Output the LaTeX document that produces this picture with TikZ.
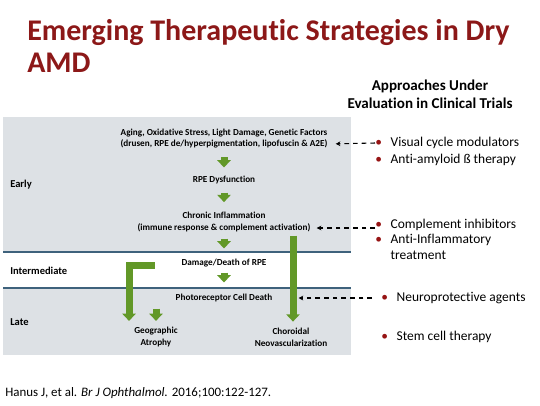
\documentclass[tikz,border=0pt]{standalone}
\usepackage{fontspec}
\setmainfont{Carlito}[Ligatures=NoCommon]
\usetikzlibrary{arrows.meta}

\definecolor{titlered}{RGB}{140,24,24}
\definecolor{arrgreen}{RGB}{98,152,40}
\definecolor{panelgray}{RGB}{221,225,229}
\definecolor{bandblue}{RGB}{62,98,124}
\definecolor{bulletred}{RGB}{150,20,20}

\newcommand{\bul}{{\color{bulletred}\textbullet}\hspace{6.5pt}}

\tikzset{
  titletext/.style={font=\fontsize{22.5}{26}\selectfont\bfseries, text=titlered, inner sep=0pt},
  steptext/.style={font=\fontsize{6.9}{8}\selectfont\bfseries, inner sep=0pt, text height=4.9pt, text depth=1.5pt},
  stagetext/.style={font=\fontsize{7.9}{9}\selectfont\bfseries, inner sep=0pt, anchor=west},
  listtext/.style={font=\fontsize{10.1}{12}\selectfont, inner sep=0pt, anchor=west, align=left},
  grnarr/.style={draw=arrgreen, line width=5.25pt, -{Triangle[width=10pt,length=5.5pt]}},
  dasharr/.style={draw=black, line width=0.8pt, dash pattern=on 3.5pt off 3pt, -{Stealth[length=3.5pt,width=3.5pt]}}
}

\begin{document}
\begin{tikzpicture}[x=0.75pt,y=0.75pt,yscale=-1,xscale=1]
\useasboundingbox (0,0) rectangle (540,405);

%Title
\node[titletext, anchor=base west] (title1) at (27,40) {Emerging Therapeutic Strategies in Dry};
\node[titletext, anchor=base west] (title2) at (27,72) {AMD};

%Shape: Panel and stage bands
\fill[panelgray] (3,117) rectangle (351,355);
\fill[white] (3,252) rectangle (351,288);
\draw[bandblue, line width=0.9pt] (3,252) -- (351,252);
\draw[bandblue, line width=0.9pt] (3,288) -- (351,288);

%Stage labels
\node[stagetext] (early) at (10,185) {Early};
\node[stagetext] (interm) at (10,271) {Intermediate};
\node[stagetext] (late) at (10,322) {Late};

%Pathway steps
\node[steptext] (aging1) at (224,133.5) {Aging, Oxidative Stress, Light Damage, Genetic Factors};
\node[steptext] (aging2) at (224,144) {(drusen, RPE de/hyperpigmentation, lipofuscin \& A2E)};
\node[steptext] (rpe) at (224,180) {RPE Dysfunction};
\node[steptext] (chronic1) at (224,216) {Chronic Inflammation};
\node[steptext] (chronic2) at (224,228) {(immune response \& complement activation)};
\node[steptext] (damage) at (224,263) {Damage/Death of RPE};
\node[steptext] (photo) at (224,298) {Photoreceptor Cell Death};
\node[steptext, align=center, font=\fontsize{6.9}{8.8}\selectfont\bfseries, text height=, text depth=] (ga) at (156,337) {Geographic\\Atrophy};
\node[steptext, align=center, font=\fontsize{6.9}{8.8}\selectfont\bfseries, text height=, text depth=] (cnv) at (291,337) {Choroidal\\Neovascularization};

%Green arrows
\draw[grnarr, shorten <=6.5pt, shorten >=6pt] (aging2.south) -- (rpe.north);
\draw[grnarr, shorten <=6pt, shorten >=7pt] (rpe.south) -- (chronic1.north);
\draw[grnarr, shorten <=4.5pt, shorten >=7.5pt] (chronic2.south) -- (damage.north);
\draw[grnarr, shorten <=3.75pt, shorten >=8.25pt] (damage.south) -- (photo.north);
\draw[grnarr, shorten <=4.5pt, shorten >=4.5pt] (ga.north |- photo.south) -- (ga.north);
\draw[grnarr, shorten >=4.5pt] ([xshift=-20pt,yshift=1.5pt]damage.west) -| ([xshift=-3.75pt]ga.north west);
\draw[grnarr, shorten <=2.25pt, shorten >=4.5pt] ([xshift=1.5pt]cnv.north |- chronic2.south) -- ([xshift=1.5pt]cnv.north);

%Header
\node[font=\fontsize{11.3}{13.5}\selectfont\bfseries, align=center, inner sep=0pt] (hdr) at (430,94) {Approaches Under\\Evaluation in Clinical Trials};

%Approaches list
\node[listtext] (vcm) at (375,143) {\bul Visual cycle modulators};
\node[listtext] (aab) at (375,160) {\bul Anti-amyloid ß therapy};
\node[listtext] (ci) at (375,225) {\bul Complement inhibitors};
\node[listtext, anchor=north west] (ai) at (375,234) {\bul Anti-Inflammatory\\\phantom{\bul}treatment};
\node[listtext] (neuro) at (381,298) {\bul Neuroprotective agents};
\node[listtext] (stem) at (381,337) {\bul Stem cell therapy};

%Dashed arrows
\draw[dasharr, shorten >=6pt] (vcm.west) -- (aging2.east);
\draw[dasharr, shorten >=4.5pt] (ci.west |- chronic2.east) -- (chronic2.east);
\draw[dasharr, shorten <=6.75pt, shorten >=19.5pt] (neuro.west) -- (photo.east);

%Citation
\node[font=\fontsize{9.7}{11}\selectfont, anchor=base west, inner sep=0pt] (cite) at (5,396) {Hanus J, et al. \textit{Br J Ophthalmol.} 2016;100:122-127.};

\end{tikzpicture}
\end{document}
